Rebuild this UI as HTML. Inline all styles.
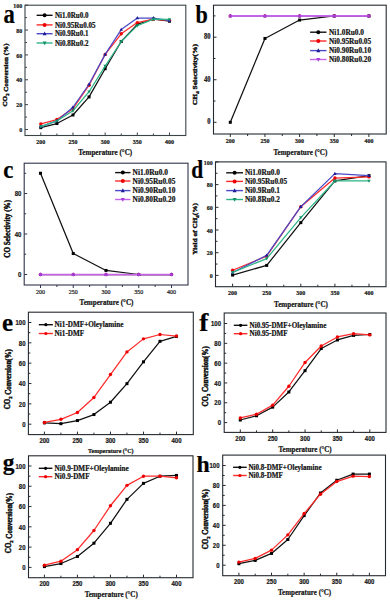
<!DOCTYPE html>
<html><head><meta charset="utf-8"><style>
html,body{margin:0;padding:0;background:#fff;}
svg{display:block;}
text{stroke:#111;stroke-width:0.22px;paint-order:normal;}
.lt{stroke-width:0.3px;}
</style></head><body>
<svg width="390" height="601" viewBox="0 0 390 601">
<rect width="390" height="601" fill="#fff"/>
<rect x="25.00" y="5.20" width="160.80" height="130.30" fill="none" stroke="#3a4446" stroke-width="1.1"/>
<line x1="40.80" y1="135.50" x2="40.80" y2="132.50" stroke="#3a4446" stroke-width="1"/>
<line x1="56.89" y1="135.50" x2="56.89" y2="133.50" stroke="#3a4446" stroke-width="1"/>
<line x1="72.97" y1="135.50" x2="72.97" y2="132.50" stroke="#3a4446" stroke-width="1"/>
<line x1="89.06" y1="135.50" x2="89.06" y2="133.50" stroke="#3a4446" stroke-width="1"/>
<line x1="105.15" y1="135.50" x2="105.15" y2="132.50" stroke="#3a4446" stroke-width="1"/>
<line x1="121.24" y1="135.50" x2="121.24" y2="133.50" stroke="#3a4446" stroke-width="1"/>
<line x1="137.32" y1="135.50" x2="137.32" y2="132.50" stroke="#3a4446" stroke-width="1"/>
<line x1="153.41" y1="135.50" x2="153.41" y2="133.50" stroke="#3a4446" stroke-width="1"/>
<line x1="169.50" y1="135.50" x2="169.50" y2="132.50" stroke="#3a4446" stroke-width="1"/>
<line x1="25.00" y1="129.50" x2="28.00" y2="129.50" stroke="#3a4446" stroke-width="1"/>
<line x1="25.00" y1="104.64" x2="28.00" y2="104.64" stroke="#3a4446" stroke-width="1"/>
<line x1="25.00" y1="79.78" x2="28.00" y2="79.78" stroke="#3a4446" stroke-width="1"/>
<line x1="25.00" y1="54.92" x2="28.00" y2="54.92" stroke="#3a4446" stroke-width="1"/>
<line x1="25.00" y1="30.06" x2="28.00" y2="30.06" stroke="#3a4446" stroke-width="1"/>
<line x1="25.00" y1="5.20" x2="28.00" y2="5.20" stroke="#3a4446" stroke-width="1"/>
<line x1="25.00" y1="117.07" x2="27.00" y2="117.07" stroke="#3a4446" stroke-width="1"/>
<line x1="25.00" y1="92.21" x2="27.00" y2="92.21" stroke="#3a4446" stroke-width="1"/>
<line x1="25.00" y1="67.35" x2="27.00" y2="67.35" stroke="#3a4446" stroke-width="1"/>
<line x1="25.00" y1="42.49" x2="27.00" y2="42.49" stroke="#3a4446" stroke-width="1"/>
<line x1="25.00" y1="17.63" x2="27.00" y2="17.63" stroke="#3a4446" stroke-width="1"/>
<text transform="translate(40.80,141.30) scale(0.8696,1)" font-family="'Liberation Serif', serif" font-weight="bold" font-size="6.900" text-anchor="middle" dominant-baseline="central" fill="#222">200</text>
<text transform="translate(72.97,141.30) scale(0.8696,1)" font-family="'Liberation Serif', serif" font-weight="bold" font-size="6.900" text-anchor="middle" dominant-baseline="central" fill="#222">250</text>
<text transform="translate(105.15,141.30) scale(0.8696,1)" font-family="'Liberation Serif', serif" font-weight="bold" font-size="6.900" text-anchor="middle" dominant-baseline="central" fill="#222">300</text>
<text transform="translate(137.32,141.30) scale(0.8696,1)" font-family="'Liberation Serif', serif" font-weight="bold" font-size="6.900" text-anchor="middle" dominant-baseline="central" fill="#222">350</text>
<text transform="translate(169.50,141.30) scale(0.8696,1)" font-family="'Liberation Serif', serif" font-weight="bold" font-size="6.900" text-anchor="middle" dominant-baseline="central" fill="#222">400</text>
<text transform="translate(22.30,129.50) scale(0.8696,1)" font-family="'Liberation Serif', serif" font-weight="bold" font-size="6.900" text-anchor="end" dominant-baseline="central" fill="#222">0</text>
<text transform="translate(22.30,104.64) scale(0.8696,1)" font-family="'Liberation Serif', serif" font-weight="bold" font-size="6.900" text-anchor="end" dominant-baseline="central" fill="#222">20</text>
<text transform="translate(22.30,79.78) scale(0.8696,1)" font-family="'Liberation Serif', serif" font-weight="bold" font-size="6.900" text-anchor="end" dominant-baseline="central" fill="#222">40</text>
<text transform="translate(22.30,54.92) scale(0.8696,1)" font-family="'Liberation Serif', serif" font-weight="bold" font-size="6.900" text-anchor="end" dominant-baseline="central" fill="#222">60</text>
<text transform="translate(22.30,30.06) scale(0.8696,1)" font-family="'Liberation Serif', serif" font-weight="bold" font-size="6.900" text-anchor="end" dominant-baseline="central" fill="#222">80</text>
<text transform="translate(22.30,5.20) scale(0.8696,1)" font-family="'Liberation Serif', serif" font-weight="bold" font-size="6.900" text-anchor="end" dominant-baseline="central" fill="#222">100</text>
<text transform="translate(105.20,152.30) scale(0.8696,1)" font-family="'Liberation Serif', serif" font-weight="bold" font-size="8.165" text-anchor="middle" dominant-baseline="central" fill="#111">Temperature (°C)</text>
<text transform="translate(4.90,75.00) rotate(-90) scale(1,0.9000)" font-family="'Liberation Serif', serif" font-weight="bold" font-size="7.100" text-anchor="middle" dominant-baseline="central" fill="#111" style="stroke-width:0.45px">CO<tspan font-size="65%" dy="2.3">2</tspan><tspan dy="-2.3"> Conversion (%)</tspan></text>
<polyline points="40.80,127.64 56.89,123.53 72.97,114.96 89.06,96.93 105.15,68.72 121.24,41.50 137.32,24.34 153.41,19.12 169.50,21.23" fill="none" stroke="#111111" stroke-width="1.25" stroke-linejoin="round"/>
<rect x="39.30" y="126.14" width="3.00" height="3.00" fill="#000000"/>
<rect x="55.39" y="122.03" width="3.00" height="3.00" fill="#000000"/>
<rect x="71.47" y="113.46" width="3.00" height="3.00" fill="#000000"/>
<rect x="87.56" y="95.43" width="3.00" height="3.00" fill="#000000"/>
<rect x="103.65" y="67.22" width="3.00" height="3.00" fill="#000000"/>
<rect x="119.74" y="40.00" width="3.00" height="3.00" fill="#000000"/>
<rect x="135.82" y="22.84" width="3.00" height="3.00" fill="#000000"/>
<rect x="151.91" y="17.62" width="3.00" height="3.00" fill="#000000"/>
<rect x="168.00" y="19.73" width="3.00" height="3.00" fill="#000000"/>
<polyline points="40.80,123.91 56.89,119.56 72.97,108.62 89.06,85.25 105.15,54.42 121.24,33.79 137.32,22.60 153.41,19.12 169.50,20.61" fill="none" stroke="#ff2a2a" stroke-width="1.25" stroke-linejoin="round"/>
<circle cx="40.80" cy="123.91" r="1.70" fill="#ee0000"/>
<circle cx="56.89" cy="119.56" r="1.70" fill="#ee0000"/>
<circle cx="72.97" cy="108.62" r="1.70" fill="#ee0000"/>
<circle cx="89.06" cy="85.25" r="1.70" fill="#ee0000"/>
<circle cx="105.15" cy="54.42" r="1.70" fill="#ee0000"/>
<circle cx="121.24" cy="33.79" r="1.70" fill="#ee0000"/>
<circle cx="137.32" cy="22.60" r="1.70" fill="#ee0000"/>
<circle cx="153.41" cy="19.12" r="1.70" fill="#ee0000"/>
<circle cx="169.50" cy="20.61" r="1.70" fill="#ee0000"/>
<polyline points="40.80,126.64 56.89,120.92 72.97,107.25 89.06,84.25 105.15,54.42 121.24,29.56 137.32,18.00 153.41,18.00 169.50,20.61" fill="none" stroke="#4a4ac8" stroke-width="1.25" stroke-linejoin="round"/>
<path d="M39.10,127.93 L42.50,127.93 L40.80,124.74Z" fill="#1c1c96"/>
<path d="M55.19,122.22 L58.59,122.22 L56.89,119.03Z" fill="#1c1c96"/>
<path d="M71.27,108.54 L74.67,108.54 L72.97,105.35Z" fill="#1c1c96"/>
<path d="M87.36,85.55 L90.76,85.55 L89.06,82.36Z" fill="#1c1c96"/>
<path d="M103.45,55.72 L106.85,55.72 L105.15,52.53Z" fill="#1c1c96"/>
<path d="M119.54,30.86 L122.94,30.86 L121.24,27.67Z" fill="#1c1c96"/>
<path d="M135.62,19.30 L139.02,19.30 L137.32,16.11Z" fill="#1c1c96"/>
<path d="M151.71,19.30 L155.11,19.30 L153.41,16.11Z" fill="#1c1c96"/>
<path d="M167.80,21.91 L171.20,21.91 L169.50,18.72Z" fill="#1c1c96"/>
<polyline points="40.80,126.64 56.89,120.92 72.97,110.73 89.06,91.71 105.15,66.11 121.24,41.50 137.32,25.59 153.41,19.12 169.50,19.49" fill="none" stroke="#2fb487" stroke-width="1.25" stroke-linejoin="round"/>
<path d="M39.10,125.35 L42.50,125.35 L40.80,128.54Z" fill="#14906a"/>
<path d="M55.19,119.63 L58.59,119.63 L56.89,122.82Z" fill="#14906a"/>
<path d="M71.27,109.44 L74.67,109.44 L72.97,112.63Z" fill="#14906a"/>
<path d="M87.36,90.42 L90.76,90.42 L89.06,93.61Z" fill="#14906a"/>
<path d="M103.45,64.81 L106.85,64.81 L105.15,68.00Z" fill="#14906a"/>
<path d="M119.54,40.20 L122.94,40.20 L121.24,43.39Z" fill="#14906a"/>
<path d="M135.62,24.29 L139.02,24.29 L137.32,27.48Z" fill="#14906a"/>
<path d="M151.71,17.83 L155.11,17.83 L153.41,21.02Z" fill="#14906a"/>
<path d="M167.80,18.20 L171.20,18.20 L169.50,21.39Z" fill="#14906a"/>
<line x1="36.60" y1="15.30" x2="52.60" y2="15.30" stroke="#111111" stroke-width="1.4"/>
<circle cx="44.60" cy="15.30" r="2.00" fill="#000000"/>
<text transform="translate(55.00,15.30) scale(0.8696,1)" font-family="'Liberation Serif', serif" font-weight="bold" font-size="8.050" text-anchor="start" dominant-baseline="central" fill="#111">Ni1.0Ru0.0</text>
<line x1="36.60" y1="24.90" x2="52.60" y2="24.90" stroke="#ff2a2a" stroke-width="1.4"/>
<circle cx="44.60" cy="24.90" r="2.00" fill="#ee0000"/>
<text transform="translate(55.00,24.90) scale(0.8696,1)" font-family="'Liberation Serif', serif" font-weight="bold" font-size="8.050" text-anchor="start" dominant-baseline="central" fill="#111">Ni0.95Ru0.05</text>
<line x1="36.60" y1="33.70" x2="52.60" y2="33.70" stroke="#4a4ac8" stroke-width="1.4"/>
<path d="M42.60,35.25 L46.60,35.25 L44.60,31.42Z" fill="#1c1c96"/>
<text transform="translate(55.00,33.70) scale(0.8696,1)" font-family="'Liberation Serif', serif" font-weight="bold" font-size="8.050" text-anchor="start" dominant-baseline="central" fill="#111">Ni0.9Ru0.1</text>
<line x1="36.60" y1="43.00" x2="52.60" y2="43.00" stroke="#2fb487" stroke-width="1.4"/>
<path d="M42.60,41.45 L46.60,41.45 L44.60,45.28Z" fill="#14906a"/>
<text transform="translate(55.00,43.00) scale(0.8696,1)" font-family="'Liberation Serif', serif" font-weight="bold" font-size="8.050" text-anchor="start" dominant-baseline="central" fill="#111">Ni0.8Ru0.2</text>
<text transform="translate(3.50,23.05) scale(0.855,1)" font-family="'Liberation Serif', serif" font-weight="bold" font-size="26.5" fill="#000">a</text>
<rect x="213.50" y="5.20" width="172.70" height="128.80" fill="none" stroke="#262a30" stroke-width="1.1"/>
<line x1="230.30" y1="134.00" x2="230.30" y2="137.00" stroke="#262a30" stroke-width="1"/>
<line x1="247.62" y1="134.00" x2="247.62" y2="136.00" stroke="#262a30" stroke-width="1"/>
<line x1="264.95" y1="134.00" x2="264.95" y2="137.00" stroke="#262a30" stroke-width="1"/>
<line x1="282.27" y1="134.00" x2="282.27" y2="136.00" stroke="#262a30" stroke-width="1"/>
<line x1="299.60" y1="134.00" x2="299.60" y2="137.00" stroke="#262a30" stroke-width="1"/>
<line x1="316.93" y1="134.00" x2="316.93" y2="136.00" stroke="#262a30" stroke-width="1"/>
<line x1="334.25" y1="134.00" x2="334.25" y2="137.00" stroke="#262a30" stroke-width="1"/>
<line x1="351.57" y1="134.00" x2="351.57" y2="136.00" stroke="#262a30" stroke-width="1"/>
<line x1="368.90" y1="134.00" x2="368.90" y2="137.00" stroke="#262a30" stroke-width="1"/>
<line x1="213.50" y1="122.30" x2="216.50" y2="122.30" stroke="#262a30" stroke-width="1"/>
<line x1="213.50" y1="79.74" x2="216.50" y2="79.74" stroke="#262a30" stroke-width="1"/>
<line x1="213.50" y1="37.18" x2="216.50" y2="37.18" stroke="#262a30" stroke-width="1"/>
<line x1="213.50" y1="101.02" x2="215.50" y2="101.02" stroke="#262a30" stroke-width="1"/>
<line x1="213.50" y1="58.46" x2="215.50" y2="58.46" stroke="#262a30" stroke-width="1"/>
<line x1="213.50" y1="15.90" x2="215.50" y2="15.90" stroke="#262a30" stroke-width="1"/>
<text transform="translate(230.30,140.80) scale(0.8696,1)" font-family="'Liberation Serif', serif" font-weight="bold" font-size="6.900" text-anchor="middle" dominant-baseline="central" fill="#222">200</text>
<text transform="translate(264.95,140.80) scale(0.8696,1)" font-family="'Liberation Serif', serif" font-weight="bold" font-size="6.900" text-anchor="middle" dominant-baseline="central" fill="#222">250</text>
<text transform="translate(299.60,140.80) scale(0.8696,1)" font-family="'Liberation Serif', serif" font-weight="bold" font-size="6.900" text-anchor="middle" dominant-baseline="central" fill="#222">300</text>
<text transform="translate(334.25,140.80) scale(0.8696,1)" font-family="'Liberation Serif', serif" font-weight="bold" font-size="6.900" text-anchor="middle" dominant-baseline="central" fill="#222">350</text>
<text transform="translate(368.90,140.80) scale(0.8696,1)" font-family="'Liberation Serif', serif" font-weight="bold" font-size="6.900" text-anchor="middle" dominant-baseline="central" fill="#222">400</text>
<text transform="translate(210.50,122.30) scale(0.8696,1)" font-family="'Liberation Serif', serif" font-weight="bold" font-size="7.590" text-anchor="end" dominant-baseline="central" fill="#222">0</text>
<text transform="translate(210.50,79.74) scale(0.8696,1)" font-family="'Liberation Serif', serif" font-weight="bold" font-size="7.590" text-anchor="end" dominant-baseline="central" fill="#222">40</text>
<text transform="translate(210.50,37.18) scale(0.8696,1)" font-family="'Liberation Serif', serif" font-weight="bold" font-size="7.590" text-anchor="end" dominant-baseline="central" fill="#222">80</text>
<text transform="translate(300.40,152.30) scale(0.8696,1)" font-family="'Liberation Serif', serif" font-weight="bold" font-size="8.165" text-anchor="middle" dominant-baseline="central" fill="#111">Temperature (°C)</text>
<text transform="translate(195.10,74.50) rotate(-90) scale(1,0.9000)" font-family="'Liberation Serif', serif" font-weight="bold" font-size="7.550" text-anchor="middle" dominant-baseline="central" fill="#111" style="stroke-width:0.45px">CH<tspan font-size="65%" dy="2.3">4</tspan><tspan dy="-2.3"> Selectivity(%)</tspan></text>
<polyline points="230.30,122.30 264.95,38.46 299.60,20.05 334.25,15.90 368.90,15.90" fill="none" stroke="#111111" stroke-width="1.25" stroke-linejoin="round"/>
<rect x="228.80" y="120.80" width="3.00" height="3.00" fill="#000000"/>
<rect x="263.45" y="36.96" width="3.00" height="3.00" fill="#000000"/>
<rect x="298.10" y="18.55" width="3.00" height="3.00" fill="#000000"/>
<rect x="332.75" y="14.40" width="3.00" height="3.00" fill="#000000"/>
<rect x="367.40" y="14.40" width="3.00" height="3.00" fill="#000000"/>
<polyline points="230.30,15.90 264.95,15.90 299.60,15.90 334.25,15.90 368.90,15.90" fill="none" stroke="#ff2a2a" stroke-width="1.25" stroke-linejoin="round"/>
<circle cx="230.30" cy="15.90" r="1.70" fill="#ee0000"/>
<circle cx="264.95" cy="15.90" r="1.70" fill="#ee0000"/>
<circle cx="299.60" cy="15.90" r="1.70" fill="#ee0000"/>
<circle cx="334.25" cy="15.90" r="1.70" fill="#ee0000"/>
<circle cx="368.90" cy="15.90" r="1.70" fill="#ee0000"/>
<polyline points="230.30,15.90 264.95,15.90 299.60,15.90 334.25,15.90 368.90,15.90" fill="none" stroke="#4a4ac8" stroke-width="1.25" stroke-linejoin="round"/>
<path d="M228.60,17.19 L232.00,17.19 L230.30,14.00Z" fill="#1c1c96"/>
<path d="M263.25,17.19 L266.65,17.19 L264.95,14.00Z" fill="#1c1c96"/>
<path d="M297.90,17.19 L301.30,17.19 L299.60,14.00Z" fill="#1c1c96"/>
<path d="M332.55,17.19 L335.95,17.19 L334.25,14.00Z" fill="#1c1c96"/>
<path d="M367.20,17.19 L370.60,17.19 L368.90,14.00Z" fill="#1c1c96"/>
<polyline points="230.30,15.90 264.95,15.90 299.60,15.90 334.25,15.90 368.90,15.90" fill="none" stroke="#c464ec" stroke-width="1.7" stroke-linejoin="round"/>
<circle cx="230.30" cy="15.90" r="1.70" fill="#a83cd8"/>
<circle cx="264.95" cy="15.90" r="1.70" fill="#a83cd8"/>
<circle cx="299.60" cy="15.90" r="1.70" fill="#a83cd8"/>
<circle cx="334.25" cy="15.90" r="1.70" fill="#a83cd8"/>
<circle cx="368.90" cy="15.90" r="1.70" fill="#a83cd8"/>
<line x1="310.10" y1="32.20" x2="326.50" y2="32.20" stroke="#111111" stroke-width="1.4"/>
<circle cx="318.30" cy="32.20" r="2.00" fill="#000000"/>
<text transform="translate(329.00,32.20) scale(0.8696,1)" font-family="'Liberation Serif', serif" font-weight="bold" font-size="8.395" text-anchor="start" dominant-baseline="central" fill="#111">Ni1.0Ru0.0</text>
<line x1="310.10" y1="41.00" x2="326.50" y2="41.00" stroke="#ff2a2a" stroke-width="1.4"/>
<circle cx="318.30" cy="41.00" r="2.00" fill="#ee0000"/>
<text transform="translate(329.00,41.00) scale(0.8696,1)" font-family="'Liberation Serif', serif" font-weight="bold" font-size="8.395" text-anchor="start" dominant-baseline="central" fill="#111">Ni0.95Ru0.05</text>
<line x1="310.10" y1="50.60" x2="326.50" y2="50.60" stroke="#4a4ac8" stroke-width="1.4"/>
<path d="M316.30,52.15 L320.30,52.15 L318.30,48.32Z" fill="#1c1c96"/>
<text transform="translate(329.00,50.60) scale(0.8696,1)" font-family="'Liberation Serif', serif" font-weight="bold" font-size="8.395" text-anchor="start" dominant-baseline="central" fill="#111">Ni0.90Ru0.10</text>
<line x1="310.10" y1="59.50" x2="326.50" y2="59.50" stroke="#c464ec" stroke-width="1.4"/>
<path d="M316.30,57.95 L320.30,57.95 L318.30,61.78Z" fill="#a83cd8"/>
<text transform="translate(329.00,59.50) scale(0.8696,1)" font-family="'Liberation Serif', serif" font-weight="bold" font-size="8.395" text-anchor="start" dominant-baseline="central" fill="#111">Ni0.80Ru0.20</text>
<text transform="translate(195.45,22.55) scale(0.895,1)" font-family="'Liberation Serif', serif" font-weight="bold" font-size="24.71" fill="#000">b</text>
<rect x="24.20" y="163.20" width="163.80" height="121.80" fill="none" stroke="#30344a" stroke-width="1.1"/>
<line x1="40.50" y1="285.00" x2="40.50" y2="288.00" stroke="#30344a" stroke-width="1"/>
<line x1="56.88" y1="285.00" x2="56.88" y2="287.00" stroke="#30344a" stroke-width="1"/>
<line x1="73.25" y1="285.00" x2="73.25" y2="288.00" stroke="#30344a" stroke-width="1"/>
<line x1="89.62" y1="285.00" x2="89.62" y2="287.00" stroke="#30344a" stroke-width="1"/>
<line x1="106.00" y1="285.00" x2="106.00" y2="288.00" stroke="#30344a" stroke-width="1"/>
<line x1="122.38" y1="285.00" x2="122.38" y2="287.00" stroke="#30344a" stroke-width="1"/>
<line x1="138.75" y1="285.00" x2="138.75" y2="288.00" stroke="#30344a" stroke-width="1"/>
<line x1="155.12" y1="285.00" x2="155.12" y2="287.00" stroke="#30344a" stroke-width="1"/>
<line x1="171.50" y1="285.00" x2="171.50" y2="288.00" stroke="#30344a" stroke-width="1"/>
<line x1="24.20" y1="274.50" x2="27.20" y2="274.50" stroke="#30344a" stroke-width="1"/>
<line x1="24.20" y1="234.00" x2="27.20" y2="234.00" stroke="#30344a" stroke-width="1"/>
<line x1="24.20" y1="193.50" x2="27.20" y2="193.50" stroke="#30344a" stroke-width="1"/>
<line x1="24.20" y1="254.25" x2="26.20" y2="254.25" stroke="#30344a" stroke-width="1"/>
<line x1="24.20" y1="213.75" x2="26.20" y2="213.75" stroke="#30344a" stroke-width="1"/>
<line x1="24.20" y1="173.25" x2="26.20" y2="173.25" stroke="#30344a" stroke-width="1"/>
<text transform="translate(40.50,291.80) scale(0.8696,1)" font-family="'Liberation Serif', serif" font-weight="normal" font-size="6.900" text-anchor="middle" dominant-baseline="central" fill="#222">200</text>
<text transform="translate(73.25,291.80) scale(0.8696,1)" font-family="'Liberation Serif', serif" font-weight="normal" font-size="6.900" text-anchor="middle" dominant-baseline="central" fill="#222">250</text>
<text transform="translate(106.00,291.80) scale(0.8696,1)" font-family="'Liberation Serif', serif" font-weight="normal" font-size="6.900" text-anchor="middle" dominant-baseline="central" fill="#222">300</text>
<text transform="translate(138.75,291.80) scale(0.8696,1)" font-family="'Liberation Serif', serif" font-weight="normal" font-size="6.900" text-anchor="middle" dominant-baseline="central" fill="#222">350</text>
<text transform="translate(171.50,291.80) scale(0.8696,1)" font-family="'Liberation Serif', serif" font-weight="normal" font-size="6.900" text-anchor="middle" dominant-baseline="central" fill="#222">400</text>
<text transform="translate(21.30,274.50) scale(0.8696,1)" font-family="'Liberation Sans', sans-serif" font-weight="bold" font-size="6.900" text-anchor="end" dominant-baseline="central" fill="#222">0</text>
<text transform="translate(21.30,234.00) scale(0.8696,1)" font-family="'Liberation Sans', sans-serif" font-weight="bold" font-size="6.900" text-anchor="end" dominant-baseline="central" fill="#222">40</text>
<text transform="translate(21.30,193.50) scale(0.8696,1)" font-family="'Liberation Sans', sans-serif" font-weight="bold" font-size="6.900" text-anchor="end" dominant-baseline="central" fill="#222">80</text>
<text transform="translate(106.50,302.30) scale(0.8696,1)" font-family="'Liberation Serif', serif" font-weight="bold" font-size="8.165" text-anchor="middle" dominant-baseline="central" fill="#111">Temperature (°C)</text>
<text transform="translate(7.70,228.80) rotate(-90) scale(1,1.0000)" font-family="'Liberation Serif', serif" font-weight="bold" font-size="7.200" text-anchor="middle" dominant-baseline="central" fill="#111" style="stroke-width:0.45px">CO Selectivity (%)</text>
<polyline points="40.50,173.25 73.25,253.54 106.00,270.45 138.75,274.50 171.50,274.50" fill="none" stroke="#111111" stroke-width="1.25" stroke-linejoin="round"/>
<rect x="39.00" y="171.75" width="3.00" height="3.00" fill="#000000"/>
<rect x="71.75" y="252.04" width="3.00" height="3.00" fill="#000000"/>
<rect x="104.50" y="268.95" width="3.00" height="3.00" fill="#000000"/>
<rect x="137.25" y="273.00" width="3.00" height="3.00" fill="#000000"/>
<rect x="170.00" y="273.00" width="3.00" height="3.00" fill="#000000"/>
<polyline points="40.50,274.50 73.25,274.50 106.00,274.50 138.75,274.50 171.50,274.50" fill="none" stroke="#ff2a2a" stroke-width="1.25" stroke-linejoin="round"/>
<circle cx="40.50" cy="274.50" r="1.70" fill="#ee0000"/>
<circle cx="73.25" cy="274.50" r="1.70" fill="#ee0000"/>
<circle cx="106.00" cy="274.50" r="1.70" fill="#ee0000"/>
<circle cx="138.75" cy="274.50" r="1.70" fill="#ee0000"/>
<circle cx="171.50" cy="274.50" r="1.70" fill="#ee0000"/>
<polyline points="40.50,274.50 73.25,274.50 106.00,274.50 138.75,274.50 171.50,274.50" fill="none" stroke="#4a4ac8" stroke-width="1.25" stroke-linejoin="round"/>
<path d="M38.80,275.79 L42.20,275.79 L40.50,272.60Z" fill="#1c1c96"/>
<path d="M71.55,275.79 L74.95,275.79 L73.25,272.60Z" fill="#1c1c96"/>
<path d="M104.30,275.79 L107.70,275.79 L106.00,272.60Z" fill="#1c1c96"/>
<path d="M137.05,275.79 L140.45,275.79 L138.75,272.60Z" fill="#1c1c96"/>
<path d="M169.80,275.79 L173.20,275.79 L171.50,272.60Z" fill="#1c1c96"/>
<polyline points="40.50,274.50 73.25,274.50 106.00,274.50 138.75,274.50 171.50,274.50" fill="none" stroke="#c464ec" stroke-width="1.7" stroke-linejoin="round"/>
<circle cx="40.50" cy="274.50" r="1.70" fill="#a83cd8"/>
<circle cx="73.25" cy="274.50" r="1.70" fill="#a83cd8"/>
<circle cx="106.00" cy="274.50" r="1.70" fill="#a83cd8"/>
<circle cx="138.75" cy="274.50" r="1.70" fill="#a83cd8"/>
<circle cx="171.50" cy="274.50" r="1.70" fill="#a83cd8"/>
<line x1="115.10" y1="172.60" x2="130.50" y2="172.60" stroke="#111111" stroke-width="1.4"/>
<circle cx="122.80" cy="172.60" r="2.00" fill="#000000"/>
<text transform="translate(132.60,172.60) scale(0.8696,1)" font-family="'Liberation Serif', serif" font-weight="bold" font-size="8.510" text-anchor="start" dominant-baseline="central" fill="#111">Ni1.0Ru0.0</text>
<line x1="115.10" y1="181.00" x2="130.50" y2="181.00" stroke="#ff2a2a" stroke-width="1.4"/>
<circle cx="122.80" cy="181.00" r="2.00" fill="#ee0000"/>
<text transform="translate(132.60,181.00) scale(0.8696,1)" font-family="'Liberation Serif', serif" font-weight="bold" font-size="8.510" text-anchor="start" dominant-baseline="central" fill="#111">Ni0.95Ru0.05</text>
<line x1="115.10" y1="190.60" x2="130.50" y2="190.60" stroke="#4a4ac8" stroke-width="1.4"/>
<path d="M120.80,192.15 L124.80,192.15 L122.80,188.32Z" fill="#1c1c96"/>
<text transform="translate(132.60,190.60) scale(0.8696,1)" font-family="'Liberation Serif', serif" font-weight="bold" font-size="8.510" text-anchor="start" dominant-baseline="central" fill="#111">Ni0.90Ru0.10</text>
<line x1="115.10" y1="199.50" x2="130.50" y2="199.50" stroke="#c464ec" stroke-width="1.4"/>
<path d="M120.80,197.95 L124.80,197.95 L122.80,201.78Z" fill="#a83cd8"/>
<text transform="translate(132.60,199.50) scale(0.8696,1)" font-family="'Liberation Serif', serif" font-weight="bold" font-size="8.510" text-anchor="start" dominant-baseline="central" fill="#111">Ni0.80Ru0.20</text>
<text transform="translate(3.25,178.15) scale(0.921,1)" font-family="'Liberation Serif', serif" font-weight="bold" font-size="24.73" fill="#000">c</text>
<rect x="215.50" y="161.90" width="170.50" height="124.80" fill="none" stroke="#262a30" stroke-width="1.1"/>
<line x1="232.60" y1="286.70" x2="232.60" y2="283.70" stroke="#262a30" stroke-width="1"/>
<line x1="249.65" y1="286.70" x2="249.65" y2="284.70" stroke="#262a30" stroke-width="1"/>
<line x1="266.70" y1="286.70" x2="266.70" y2="283.70" stroke="#262a30" stroke-width="1"/>
<line x1="283.75" y1="286.70" x2="283.75" y2="284.70" stroke="#262a30" stroke-width="1"/>
<line x1="300.80" y1="286.70" x2="300.80" y2="283.70" stroke="#262a30" stroke-width="1"/>
<line x1="317.85" y1="286.70" x2="317.85" y2="284.70" stroke="#262a30" stroke-width="1"/>
<line x1="334.90" y1="286.70" x2="334.90" y2="283.70" stroke="#262a30" stroke-width="1"/>
<line x1="351.95" y1="286.70" x2="351.95" y2="284.70" stroke="#262a30" stroke-width="1"/>
<line x1="369.00" y1="286.70" x2="369.00" y2="283.70" stroke="#262a30" stroke-width="1"/>
<line x1="215.50" y1="275.40" x2="218.50" y2="275.40" stroke="#262a30" stroke-width="1"/>
<line x1="215.50" y1="252.70" x2="218.50" y2="252.70" stroke="#262a30" stroke-width="1"/>
<line x1="215.50" y1="230.00" x2="218.50" y2="230.00" stroke="#262a30" stroke-width="1"/>
<line x1="215.50" y1="207.30" x2="218.50" y2="207.30" stroke="#262a30" stroke-width="1"/>
<line x1="215.50" y1="184.60" x2="218.50" y2="184.60" stroke="#262a30" stroke-width="1"/>
<line x1="215.50" y1="161.90" x2="218.50" y2="161.90" stroke="#262a30" stroke-width="1"/>
<line x1="215.50" y1="264.05" x2="217.50" y2="264.05" stroke="#262a30" stroke-width="1"/>
<line x1="215.50" y1="241.35" x2="217.50" y2="241.35" stroke="#262a30" stroke-width="1"/>
<line x1="215.50" y1="218.65" x2="217.50" y2="218.65" stroke="#262a30" stroke-width="1"/>
<line x1="215.50" y1="195.95" x2="217.50" y2="195.95" stroke="#262a30" stroke-width="1"/>
<line x1="215.50" y1="173.25" x2="217.50" y2="173.25" stroke="#262a30" stroke-width="1"/>
<text transform="translate(232.60,292.20) scale(0.8696,1)" font-family="'Liberation Serif', serif" font-weight="bold" font-size="6.900" text-anchor="middle" dominant-baseline="central" fill="#222">200</text>
<text transform="translate(266.70,292.20) scale(0.8696,1)" font-family="'Liberation Serif', serif" font-weight="bold" font-size="6.900" text-anchor="middle" dominant-baseline="central" fill="#222">250</text>
<text transform="translate(300.80,292.20) scale(0.8696,1)" font-family="'Liberation Serif', serif" font-weight="bold" font-size="6.900" text-anchor="middle" dominant-baseline="central" fill="#222">300</text>
<text transform="translate(334.90,292.20) scale(0.8696,1)" font-family="'Liberation Serif', serif" font-weight="bold" font-size="6.900" text-anchor="middle" dominant-baseline="central" fill="#222">350</text>
<text transform="translate(369.00,292.20) scale(0.8696,1)" font-family="'Liberation Serif', serif" font-weight="bold" font-size="6.900" text-anchor="middle" dominant-baseline="central" fill="#222">400</text>
<text transform="translate(212.80,275.40) scale(0.8696,1)" font-family="'Liberation Serif', serif" font-weight="bold" font-size="6.900" text-anchor="end" dominant-baseline="central" fill="#222">0</text>
<text transform="translate(212.80,252.70) scale(0.8696,1)" font-family="'Liberation Serif', serif" font-weight="bold" font-size="6.900" text-anchor="end" dominant-baseline="central" fill="#222">20</text>
<text transform="translate(212.80,230.00) scale(0.8696,1)" font-family="'Liberation Serif', serif" font-weight="bold" font-size="6.900" text-anchor="end" dominant-baseline="central" fill="#222">40</text>
<text transform="translate(212.80,207.30) scale(0.8696,1)" font-family="'Liberation Serif', serif" font-weight="bold" font-size="6.900" text-anchor="end" dominant-baseline="central" fill="#222">60</text>
<text transform="translate(212.80,184.60) scale(0.8696,1)" font-family="'Liberation Serif', serif" font-weight="bold" font-size="6.900" text-anchor="end" dominant-baseline="central" fill="#222">80</text>
<text transform="translate(212.80,161.90) scale(0.8696,1)" font-family="'Liberation Serif', serif" font-weight="bold" font-size="6.900" text-anchor="end" dominant-baseline="central" fill="#222">100</text>
<text transform="translate(301.00,304.10) scale(0.8696,1)" font-family="'Liberation Serif', serif" font-weight="bold" font-size="8.165" text-anchor="middle" dominant-baseline="central" fill="#111">Temperature (°C)</text>
<text transform="translate(195.40,228.90) rotate(-90) scale(1,0.9000)" font-family="'Liberation Serif', serif" font-weight="bold" font-size="7.300" text-anchor="middle" dominant-baseline="central" fill="#111" style="stroke-width:0.45px">Yield of CH<tspan font-size="65%" dy="2.3">4</tspan><tspan dy="-2.3">(%)</tspan></text>
<polyline points="232.60,275.06 266.70,265.41 300.80,222.62 334.90,180.97 369.00,175.63" fill="none" stroke="#111111" stroke-width="1.25" stroke-linejoin="round"/>
<rect x="231.10" y="273.56" width="3.00" height="3.00" fill="#000000"/>
<rect x="265.20" y="263.91" width="3.00" height="3.00" fill="#000000"/>
<rect x="299.30" y="221.12" width="3.00" height="3.00" fill="#000000"/>
<rect x="333.40" y="179.47" width="3.00" height="3.00" fill="#000000"/>
<rect x="367.50" y="174.13" width="3.00" height="3.00" fill="#000000"/>
<polyline points="232.60,270.29 266.70,256.10 300.80,206.73 334.90,178.02 369.00,176.88" fill="none" stroke="#ff2a2a" stroke-width="1.25" stroke-linejoin="round"/>
<circle cx="232.60" cy="270.29" r="1.70" fill="#ee0000"/>
<circle cx="266.70" cy="256.10" r="1.70" fill="#ee0000"/>
<circle cx="300.80" cy="206.73" r="1.70" fill="#ee0000"/>
<circle cx="334.90" cy="178.02" r="1.70" fill="#ee0000"/>
<circle cx="369.00" cy="176.88" r="1.70" fill="#ee0000"/>
<polyline points="232.60,272.56 266.70,255.31 300.80,206.73 334.90,173.59 369.00,175.63" fill="none" stroke="#4a4ac8" stroke-width="1.25" stroke-linejoin="round"/>
<path d="M230.90,273.86 L234.30,273.86 L232.60,270.67Z" fill="#1c1c96"/>
<path d="M265.00,256.60 L268.40,256.60 L266.70,253.41Z" fill="#1c1c96"/>
<path d="M299.10,208.03 L302.50,208.03 L300.80,204.84Z" fill="#1c1c96"/>
<path d="M333.20,174.88 L336.60,174.88 L334.90,171.69Z" fill="#1c1c96"/>
<path d="M367.30,176.93 L370.70,176.93 L369.00,173.74Z" fill="#1c1c96"/>
<polyline points="232.60,272.34 266.70,258.60 300.80,217.63 334.90,180.97 369.00,180.97" fill="none" stroke="#2fb487" stroke-width="1.25" stroke-linejoin="round"/>
<path d="M230.90,271.04 L234.30,271.04 L232.60,274.23Z" fill="#14906a"/>
<path d="M265.00,257.31 L268.40,257.31 L266.70,260.50Z" fill="#14906a"/>
<path d="M299.10,216.33 L302.50,216.33 L300.80,219.53Z" fill="#14906a"/>
<path d="M333.20,179.67 L336.60,179.67 L334.90,182.87Z" fill="#14906a"/>
<path d="M367.30,179.67 L370.70,179.67 L369.00,182.87Z" fill="#14906a"/>
<line x1="226.20" y1="172.80" x2="243.00" y2="172.80" stroke="#111111" stroke-width="1.4"/>
<circle cx="234.60" cy="172.80" r="2.00" fill="#000000"/>
<text transform="translate(245.00,172.80) scale(0.8696,1)" font-family="'Liberation Serif', serif" font-weight="bold" font-size="8.395" text-anchor="start" dominant-baseline="central" fill="#111">Ni1.0Ru0.0</text>
<line x1="226.20" y1="181.40" x2="243.00" y2="181.40" stroke="#ff2a2a" stroke-width="1.4"/>
<circle cx="234.60" cy="181.40" r="2.00" fill="#ee0000"/>
<text transform="translate(245.00,181.40) scale(0.8696,1)" font-family="'Liberation Serif', serif" font-weight="bold" font-size="8.395" text-anchor="start" dominant-baseline="central" fill="#111">Ni0.95Ru0.05</text>
<line x1="226.20" y1="190.60" x2="243.00" y2="190.60" stroke="#4a4ac8" stroke-width="1.4"/>
<path d="M232.60,192.15 L236.60,192.15 L234.60,188.32Z" fill="#1c1c96"/>
<text transform="translate(245.00,190.60) scale(0.8696,1)" font-family="'Liberation Serif', serif" font-weight="bold" font-size="8.395" text-anchor="start" dominant-baseline="central" fill="#111">Ni0.9Ru0.1</text>
<line x1="226.20" y1="199.50" x2="243.00" y2="199.50" stroke="#2fb487" stroke-width="1.4"/>
<path d="M232.60,197.95 L236.60,197.95 L234.60,201.78Z" fill="#14906a"/>
<text transform="translate(245.00,199.50) scale(0.8696,1)" font-family="'Liberation Serif', serif" font-weight="bold" font-size="8.395" text-anchor="start" dominant-baseline="central" fill="#111">Ni0.8Ru0.2</text>
<text transform="translate(191.15,177.65) scale(0.847,1)" font-family="'Liberation Serif', serif" font-weight="bold" font-size="25.36" fill="#000">d</text>
<rect x="28.40" y="312.20" width="164.90" height="122.40" fill="none" stroke="#262a30" stroke-width="1.1"/>
<line x1="44.40" y1="434.60" x2="44.40" y2="431.60" stroke="#262a30" stroke-width="1"/>
<line x1="60.91" y1="434.60" x2="60.91" y2="432.60" stroke="#262a30" stroke-width="1"/>
<line x1="77.42" y1="434.60" x2="77.42" y2="431.60" stroke="#262a30" stroke-width="1"/>
<line x1="93.94" y1="434.60" x2="93.94" y2="432.60" stroke="#262a30" stroke-width="1"/>
<line x1="110.45" y1="434.60" x2="110.45" y2="431.60" stroke="#262a30" stroke-width="1"/>
<line x1="126.96" y1="434.60" x2="126.96" y2="432.60" stroke="#262a30" stroke-width="1"/>
<line x1="143.47" y1="434.60" x2="143.47" y2="431.60" stroke="#262a30" stroke-width="1"/>
<line x1="159.99" y1="434.60" x2="159.99" y2="432.60" stroke="#262a30" stroke-width="1"/>
<line x1="176.50" y1="434.60" x2="176.50" y2="431.60" stroke="#262a30" stroke-width="1"/>
<line x1="28.40" y1="424.20" x2="31.40" y2="424.20" stroke="#262a30" stroke-width="1"/>
<line x1="28.40" y1="403.86" x2="31.40" y2="403.86" stroke="#262a30" stroke-width="1"/>
<line x1="28.40" y1="383.52" x2="31.40" y2="383.52" stroke="#262a30" stroke-width="1"/>
<line x1="28.40" y1="363.18" x2="31.40" y2="363.18" stroke="#262a30" stroke-width="1"/>
<line x1="28.40" y1="342.84" x2="31.40" y2="342.84" stroke="#262a30" stroke-width="1"/>
<line x1="28.40" y1="322.50" x2="31.40" y2="322.50" stroke="#262a30" stroke-width="1"/>
<line x1="28.40" y1="414.03" x2="30.40" y2="414.03" stroke="#262a30" stroke-width="1"/>
<line x1="28.40" y1="393.69" x2="30.40" y2="393.69" stroke="#262a30" stroke-width="1"/>
<line x1="28.40" y1="373.35" x2="30.40" y2="373.35" stroke="#262a30" stroke-width="1"/>
<line x1="28.40" y1="353.01" x2="30.40" y2="353.01" stroke="#262a30" stroke-width="1"/>
<line x1="28.40" y1="332.67" x2="30.40" y2="332.67" stroke="#262a30" stroke-width="1"/>
<text transform="translate(44.40,440.00) scale(0.8696,1)" font-family="'Liberation Sans', sans-serif" font-weight="bold" font-size="6.900" text-anchor="middle" dominant-baseline="central" fill="#222">200</text>
<text transform="translate(77.42,440.00) scale(0.8696,1)" font-family="'Liberation Sans', sans-serif" font-weight="bold" font-size="6.900" text-anchor="middle" dominant-baseline="central" fill="#222">250</text>
<text transform="translate(110.45,440.00) scale(0.8696,1)" font-family="'Liberation Sans', sans-serif" font-weight="bold" font-size="6.900" text-anchor="middle" dominant-baseline="central" fill="#222">300</text>
<text transform="translate(143.47,440.00) scale(0.8696,1)" font-family="'Liberation Sans', sans-serif" font-weight="bold" font-size="6.900" text-anchor="middle" dominant-baseline="central" fill="#222">350</text>
<text transform="translate(176.50,440.00) scale(0.8696,1)" font-family="'Liberation Sans', sans-serif" font-weight="bold" font-size="6.900" text-anchor="middle" dominant-baseline="central" fill="#222">400</text>
<text transform="translate(25.50,424.20) scale(0.8696,1)" font-family="'Liberation Sans', sans-serif" font-weight="bold" font-size="6.900" text-anchor="end" dominant-baseline="central" fill="#222">0</text>
<text transform="translate(25.50,403.86) scale(0.8696,1)" font-family="'Liberation Sans', sans-serif" font-weight="bold" font-size="6.900" text-anchor="end" dominant-baseline="central" fill="#222">20</text>
<text transform="translate(25.50,383.52) scale(0.8696,1)" font-family="'Liberation Sans', sans-serif" font-weight="bold" font-size="6.900" text-anchor="end" dominant-baseline="central" fill="#222">40</text>
<text transform="translate(25.50,363.18) scale(0.8696,1)" font-family="'Liberation Sans', sans-serif" font-weight="bold" font-size="6.900" text-anchor="end" dominant-baseline="central" fill="#222">60</text>
<text transform="translate(25.50,342.84) scale(0.8696,1)" font-family="'Liberation Sans', sans-serif" font-weight="bold" font-size="6.900" text-anchor="end" dominant-baseline="central" fill="#222">80</text>
<text transform="translate(25.50,322.50) scale(0.8696,1)" font-family="'Liberation Sans', sans-serif" font-weight="bold" font-size="6.900" text-anchor="end" dominant-baseline="central" fill="#222">100</text>
<text transform="translate(110.80,450.40) scale(0.8696,1)" font-family="'Liberation Serif', serif" font-weight="bold" font-size="6.900" text-anchor="middle" dominant-baseline="central" fill="#111">Temperature (°C)</text>
<text transform="translate(7.60,379.20) rotate(-90) scale(1,1.1000)" font-family="'Liberation Serif', serif" font-weight="bold" font-size="7.000" text-anchor="middle" dominant-baseline="central" fill="#111" style="stroke-width:0.45px">CO<tspan font-size="65%" dy="2.3">2</tspan><tspan dy="-2.3"> Conversion(%)</tspan></text>
<polyline points="44.40,422.88 60.91,423.69 77.42,420.54 93.94,414.54 110.45,402.23 126.96,383.62 143.47,361.86 159.99,341.31 176.50,336.43" fill="none" stroke="#111111" stroke-width="1.25" stroke-linejoin="round"/>
<rect x="42.90" y="421.38" width="3.00" height="3.00" fill="#000000"/>
<rect x="59.41" y="422.19" width="3.00" height="3.00" fill="#000000"/>
<rect x="75.92" y="419.04" width="3.00" height="3.00" fill="#000000"/>
<rect x="92.44" y="413.04" width="3.00" height="3.00" fill="#000000"/>
<rect x="108.95" y="400.73" width="3.00" height="3.00" fill="#000000"/>
<rect x="125.46" y="382.12" width="3.00" height="3.00" fill="#000000"/>
<rect x="141.97" y="360.36" width="3.00" height="3.00" fill="#000000"/>
<rect x="158.49" y="339.81" width="3.00" height="3.00" fill="#000000"/>
<rect x="175.00" y="334.93" width="3.00" height="3.00" fill="#000000"/>
<polyline points="44.40,422.47 60.91,419.32 77.42,412.50 93.94,397.45 110.45,374.57 126.96,351.89 143.47,338.87 159.99,334.50 176.50,336.03" fill="none" stroke="#ff2a2a" stroke-width="1.25" stroke-linejoin="round"/>
<circle cx="44.40" cy="422.47" r="1.70" fill="#ee0000"/>
<circle cx="60.91" cy="419.32" r="1.70" fill="#ee0000"/>
<circle cx="77.42" cy="412.50" r="1.70" fill="#ee0000"/>
<circle cx="93.94" cy="397.45" r="1.70" fill="#ee0000"/>
<circle cx="110.45" cy="374.57" r="1.70" fill="#ee0000"/>
<circle cx="126.96" cy="351.89" r="1.70" fill="#ee0000"/>
<circle cx="143.47" cy="338.87" r="1.70" fill="#ee0000"/>
<circle cx="159.99" cy="334.50" r="1.70" fill="#ee0000"/>
<circle cx="176.50" cy="336.03" r="1.70" fill="#ee0000"/>
<line x1="38.80" y1="324.70" x2="52.90" y2="324.70" stroke="#111111" stroke-width="1.4"/>
<circle cx="45.85" cy="324.70" r="1.60" fill="#000000"/>
<text transform="translate(54.60,324.70) scale(0.8696,1)" font-family="'Liberation Serif', serif" font-weight="bold" font-size="8.280" text-anchor="start" dominant-baseline="central" fill="#111">Ni1-DMF+Oleylamine</text>
<line x1="38.80" y1="333.50" x2="52.90" y2="333.50" stroke="#ff2a2a" stroke-width="1.4"/>
<circle cx="45.85" cy="333.50" r="1.60" fill="#ee0000"/>
<text transform="translate(54.60,333.50) scale(0.8696,1)" font-family="'Liberation Serif', serif" font-weight="bold" font-size="8.280" text-anchor="start" dominant-baseline="central" fill="#111">Ni1-DMF</text>
<text transform="translate(1.95,331.45) scale(0.978,1)" font-family="'Liberation Serif', serif" font-weight="bold" font-size="25.64" fill="#000">e</text>
<rect x="224.20" y="313.00" width="161.80" height="119.40" fill="none" stroke="#262a30" stroke-width="1.1"/>
<line x1="240.30" y1="432.40" x2="240.30" y2="429.40" stroke="#262a30" stroke-width="1"/>
<line x1="256.49" y1="432.40" x2="256.49" y2="430.40" stroke="#262a30" stroke-width="1"/>
<line x1="272.68" y1="432.40" x2="272.68" y2="429.40" stroke="#262a30" stroke-width="1"/>
<line x1="288.86" y1="432.40" x2="288.86" y2="430.40" stroke="#262a30" stroke-width="1"/>
<line x1="305.05" y1="432.40" x2="305.05" y2="429.40" stroke="#262a30" stroke-width="1"/>
<line x1="321.24" y1="432.40" x2="321.24" y2="430.40" stroke="#262a30" stroke-width="1"/>
<line x1="337.43" y1="432.40" x2="337.43" y2="429.40" stroke="#262a30" stroke-width="1"/>
<line x1="353.61" y1="432.40" x2="353.61" y2="430.40" stroke="#262a30" stroke-width="1"/>
<line x1="369.80" y1="432.40" x2="369.80" y2="429.40" stroke="#262a30" stroke-width="1"/>
<line x1="224.20" y1="422.60" x2="227.20" y2="422.60" stroke="#262a30" stroke-width="1"/>
<line x1="224.20" y1="402.78" x2="227.20" y2="402.78" stroke="#262a30" stroke-width="1"/>
<line x1="224.20" y1="382.96" x2="227.20" y2="382.96" stroke="#262a30" stroke-width="1"/>
<line x1="224.20" y1="363.14" x2="227.20" y2="363.14" stroke="#262a30" stroke-width="1"/>
<line x1="224.20" y1="343.32" x2="227.20" y2="343.32" stroke="#262a30" stroke-width="1"/>
<line x1="224.20" y1="323.50" x2="227.20" y2="323.50" stroke="#262a30" stroke-width="1"/>
<line x1="224.20" y1="412.69" x2="226.20" y2="412.69" stroke="#262a30" stroke-width="1"/>
<line x1="224.20" y1="392.87" x2="226.20" y2="392.87" stroke="#262a30" stroke-width="1"/>
<line x1="224.20" y1="373.05" x2="226.20" y2="373.05" stroke="#262a30" stroke-width="1"/>
<line x1="224.20" y1="353.23" x2="226.20" y2="353.23" stroke="#262a30" stroke-width="1"/>
<line x1="224.20" y1="333.41" x2="226.20" y2="333.41" stroke="#262a30" stroke-width="1"/>
<text transform="translate(240.30,437.90) scale(0.8696,1)" font-family="'Liberation Sans', sans-serif" font-weight="bold" font-size="6.900" text-anchor="middle" dominant-baseline="central" fill="#222">200</text>
<text transform="translate(272.68,437.90) scale(0.8696,1)" font-family="'Liberation Sans', sans-serif" font-weight="bold" font-size="6.900" text-anchor="middle" dominant-baseline="central" fill="#222">250</text>
<text transform="translate(305.05,437.90) scale(0.8696,1)" font-family="'Liberation Sans', sans-serif" font-weight="bold" font-size="6.900" text-anchor="middle" dominant-baseline="central" fill="#222">300</text>
<text transform="translate(337.43,437.90) scale(0.8696,1)" font-family="'Liberation Sans', sans-serif" font-weight="bold" font-size="6.900" text-anchor="middle" dominant-baseline="central" fill="#222">350</text>
<text transform="translate(369.80,437.90) scale(0.8696,1)" font-family="'Liberation Sans', sans-serif" font-weight="bold" font-size="6.900" text-anchor="middle" dominant-baseline="central" fill="#222">400</text>
<text transform="translate(221.00,422.60) scale(0.8696,1)" font-family="'Liberation Sans', sans-serif" font-weight="bold" font-size="6.900" text-anchor="end" dominant-baseline="central" fill="#222">0</text>
<text transform="translate(221.00,402.78) scale(0.8696,1)" font-family="'Liberation Sans', sans-serif" font-weight="bold" font-size="6.900" text-anchor="end" dominant-baseline="central" fill="#222">20</text>
<text transform="translate(221.00,382.96) scale(0.8696,1)" font-family="'Liberation Sans', sans-serif" font-weight="bold" font-size="6.900" text-anchor="end" dominant-baseline="central" fill="#222">40</text>
<text transform="translate(221.00,363.14) scale(0.8696,1)" font-family="'Liberation Sans', sans-serif" font-weight="bold" font-size="6.900" text-anchor="end" dominant-baseline="central" fill="#222">60</text>
<text transform="translate(221.00,343.32) scale(0.8696,1)" font-family="'Liberation Sans', sans-serif" font-weight="bold" font-size="6.900" text-anchor="end" dominant-baseline="central" fill="#222">80</text>
<text transform="translate(221.00,323.50) scale(0.8696,1)" font-family="'Liberation Sans', sans-serif" font-weight="bold" font-size="6.900" text-anchor="end" dominant-baseline="central" fill="#222">100</text>
<text transform="translate(305.10,449.10) scale(0.8696,1)" font-family="'Liberation Serif', serif" font-weight="bold" font-size="8.050" text-anchor="middle" dominant-baseline="central" fill="#111">Temperature (°C)</text>
<text transform="translate(205.10,376.40) rotate(-90) scale(1,1.1000)" font-family="'Liberation Serif', serif" font-weight="bold" font-size="7.000" text-anchor="middle" dominant-baseline="central" fill="#111" style="stroke-width:0.45px">CO<tspan font-size="65%" dy="2.3">2</tspan><tspan dy="-2.3"> Conversion(%)</tspan></text>
<polyline points="240.30,420.02 256.49,415.76 272.68,407.14 288.86,391.98 305.05,370.67 321.24,348.57 337.43,339.95 353.61,335.39 369.80,334.50" fill="none" stroke="#111111" stroke-width="1.25" stroke-linejoin="round"/>
<rect x="238.80" y="418.52" width="3.00" height="3.00" fill="#000000"/>
<rect x="254.99" y="414.26" width="3.00" height="3.00" fill="#000000"/>
<rect x="271.18" y="405.64" width="3.00" height="3.00" fill="#000000"/>
<rect x="287.36" y="390.48" width="3.00" height="3.00" fill="#000000"/>
<rect x="303.55" y="369.17" width="3.00" height="3.00" fill="#000000"/>
<rect x="319.74" y="347.07" width="3.00" height="3.00" fill="#000000"/>
<rect x="335.93" y="338.45" width="3.00" height="3.00" fill="#000000"/>
<rect x="352.11" y="333.89" width="3.00" height="3.00" fill="#000000"/>
<rect x="368.30" y="333.00" width="3.00" height="3.00" fill="#000000"/>
<polyline points="240.30,417.94 256.49,414.18 272.68,405.16 288.86,386.23 305.05,362.45 321.24,346.00 337.43,336.98 353.61,333.71 369.80,334.90" fill="none" stroke="#ff2a2a" stroke-width="1.25" stroke-linejoin="round"/>
<circle cx="240.30" cy="417.94" r="1.70" fill="#ee0000"/>
<circle cx="256.49" cy="414.18" r="1.70" fill="#ee0000"/>
<circle cx="272.68" cy="405.16" r="1.70" fill="#ee0000"/>
<circle cx="288.86" cy="386.23" r="1.70" fill="#ee0000"/>
<circle cx="305.05" cy="362.45" r="1.70" fill="#ee0000"/>
<circle cx="321.24" cy="346.00" r="1.70" fill="#ee0000"/>
<circle cx="337.43" cy="336.98" r="1.70" fill="#ee0000"/>
<circle cx="353.61" cy="333.71" r="1.70" fill="#ee0000"/>
<circle cx="369.80" cy="334.90" r="1.70" fill="#ee0000"/>
<line x1="233.80" y1="325.30" x2="247.40" y2="325.30" stroke="#111111" stroke-width="1.4"/>
<circle cx="240.60" cy="325.30" r="1.60" fill="#000000"/>
<text transform="translate(249.60,325.30) scale(0.8696,1)" font-family="'Liberation Serif', serif" font-weight="bold" font-size="8.165" text-anchor="start" dominant-baseline="central" fill="#111">Ni0.95-DMF+Oleylamine</text>
<line x1="233.80" y1="333.70" x2="247.40" y2="333.70" stroke="#ff2a2a" stroke-width="1.4"/>
<circle cx="240.60" cy="333.70" r="1.60" fill="#ee0000"/>
<text transform="translate(249.60,333.70) scale(0.8696,1)" font-family="'Liberation Serif', serif" font-weight="bold" font-size="8.165" text-anchor="start" dominant-baseline="central" fill="#111">Ni0.95-DMF</text>
<text transform="translate(199.15,330.55) scale(1.091,1)" font-family="'Liberation Serif', serif" font-weight="bold" font-size="25.05" fill="#000">f</text>
<rect x="28.50" y="455.80" width="164.50" height="121.90" fill="none" stroke="#262a30" stroke-width="1.1"/>
<line x1="44.40" y1="577.70" x2="44.40" y2="574.70" stroke="#262a30" stroke-width="1"/>
<line x1="60.91" y1="577.70" x2="60.91" y2="575.70" stroke="#262a30" stroke-width="1"/>
<line x1="77.42" y1="577.70" x2="77.42" y2="574.70" stroke="#262a30" stroke-width="1"/>
<line x1="93.94" y1="577.70" x2="93.94" y2="575.70" stroke="#262a30" stroke-width="1"/>
<line x1="110.45" y1="577.70" x2="110.45" y2="574.70" stroke="#262a30" stroke-width="1"/>
<line x1="126.96" y1="577.70" x2="126.96" y2="575.70" stroke="#262a30" stroke-width="1"/>
<line x1="143.47" y1="577.70" x2="143.47" y2="574.70" stroke="#262a30" stroke-width="1"/>
<line x1="159.99" y1="577.70" x2="159.99" y2="575.70" stroke="#262a30" stroke-width="1"/>
<line x1="176.50" y1="577.70" x2="176.50" y2="574.70" stroke="#262a30" stroke-width="1"/>
<line x1="28.50" y1="567.40" x2="31.50" y2="567.40" stroke="#262a30" stroke-width="1"/>
<line x1="28.50" y1="547.12" x2="31.50" y2="547.12" stroke="#262a30" stroke-width="1"/>
<line x1="28.50" y1="526.84" x2="31.50" y2="526.84" stroke="#262a30" stroke-width="1"/>
<line x1="28.50" y1="506.56" x2="31.50" y2="506.56" stroke="#262a30" stroke-width="1"/>
<line x1="28.50" y1="486.28" x2="31.50" y2="486.28" stroke="#262a30" stroke-width="1"/>
<line x1="28.50" y1="466.00" x2="31.50" y2="466.00" stroke="#262a30" stroke-width="1"/>
<line x1="28.50" y1="557.26" x2="30.50" y2="557.26" stroke="#262a30" stroke-width="1"/>
<line x1="28.50" y1="536.98" x2="30.50" y2="536.98" stroke="#262a30" stroke-width="1"/>
<line x1="28.50" y1="516.70" x2="30.50" y2="516.70" stroke="#262a30" stroke-width="1"/>
<line x1="28.50" y1="496.42" x2="30.50" y2="496.42" stroke="#262a30" stroke-width="1"/>
<line x1="28.50" y1="476.14" x2="30.50" y2="476.14" stroke="#262a30" stroke-width="1"/>
<text transform="translate(44.40,583.50) scale(0.8696,1)" font-family="'Liberation Sans', sans-serif" font-weight="bold" font-size="6.900" text-anchor="middle" dominant-baseline="central" fill="#222">200</text>
<text transform="translate(77.42,583.50) scale(0.8696,1)" font-family="'Liberation Sans', sans-serif" font-weight="bold" font-size="6.900" text-anchor="middle" dominant-baseline="central" fill="#222">250</text>
<text transform="translate(110.45,583.50) scale(0.8696,1)" font-family="'Liberation Sans', sans-serif" font-weight="bold" font-size="6.900" text-anchor="middle" dominant-baseline="central" fill="#222">300</text>
<text transform="translate(143.47,583.50) scale(0.8696,1)" font-family="'Liberation Sans', sans-serif" font-weight="bold" font-size="6.900" text-anchor="middle" dominant-baseline="central" fill="#222">350</text>
<text transform="translate(176.50,583.50) scale(0.8696,1)" font-family="'Liberation Sans', sans-serif" font-weight="bold" font-size="6.900" text-anchor="middle" dominant-baseline="central" fill="#222">400</text>
<text transform="translate(25.50,567.40) scale(0.8696,1)" font-family="'Liberation Sans', sans-serif" font-weight="bold" font-size="6.900" text-anchor="end" dominant-baseline="central" fill="#222">0</text>
<text transform="translate(25.50,547.12) scale(0.8696,1)" font-family="'Liberation Sans', sans-serif" font-weight="bold" font-size="6.900" text-anchor="end" dominant-baseline="central" fill="#222">20</text>
<text transform="translate(25.50,526.84) scale(0.8696,1)" font-family="'Liberation Sans', sans-serif" font-weight="bold" font-size="6.900" text-anchor="end" dominant-baseline="central" fill="#222">40</text>
<text transform="translate(25.50,506.56) scale(0.8696,1)" font-family="'Liberation Sans', sans-serif" font-weight="bold" font-size="6.900" text-anchor="end" dominant-baseline="central" fill="#222">60</text>
<text transform="translate(25.50,486.28) scale(0.8696,1)" font-family="'Liberation Sans', sans-serif" font-weight="bold" font-size="6.900" text-anchor="end" dominant-baseline="central" fill="#222">80</text>
<text transform="translate(25.50,466.00) scale(0.8696,1)" font-family="'Liberation Sans', sans-serif" font-weight="bold" font-size="6.900" text-anchor="end" dominant-baseline="central" fill="#222">100</text>
<text transform="translate(111.20,594.20) scale(0.8696,1)" font-family="'Liberation Serif', serif" font-weight="bold" font-size="8.050" text-anchor="middle" dominant-baseline="central" fill="#111">Temperature (°C)</text>
<text transform="translate(8.70,523.00) rotate(-90) scale(1,1.1000)" font-family="'Liberation Serif', serif" font-weight="bold" font-size="7.000" text-anchor="middle" dominant-baseline="central" fill="#111" style="stroke-width:0.45px">CO<tspan font-size="65%" dy="2.3">2</tspan><tspan dy="-2.3"> Conversion(%)</tspan></text>
<polyline points="44.40,566.59 60.91,563.55 77.42,556.45 93.94,543.17 110.45,523.29 126.96,499.36 143.47,483.34 159.99,476.24 176.50,475.43" fill="none" stroke="#111111" stroke-width="1.25" stroke-linejoin="round"/>
<rect x="42.90" y="565.09" width="3.00" height="3.00" fill="#000000"/>
<rect x="59.41" y="562.05" width="3.00" height="3.00" fill="#000000"/>
<rect x="75.92" y="554.95" width="3.00" height="3.00" fill="#000000"/>
<rect x="92.44" y="541.67" width="3.00" height="3.00" fill="#000000"/>
<rect x="108.95" y="521.79" width="3.00" height="3.00" fill="#000000"/>
<rect x="125.46" y="497.86" width="3.00" height="3.00" fill="#000000"/>
<rect x="141.97" y="481.84" width="3.00" height="3.00" fill="#000000"/>
<rect x="158.49" y="474.74" width="3.00" height="3.00" fill="#000000"/>
<rect x="175.00" y="473.93" width="3.00" height="3.00" fill="#000000"/>
<polyline points="44.40,565.17 60.91,561.21 77.42,549.65 93.94,530.49 110.45,505.75 126.96,485.37 143.47,476.24 159.99,476.24 176.50,477.76" fill="none" stroke="#ff2a2a" stroke-width="1.25" stroke-linejoin="round"/>
<circle cx="44.40" cy="565.17" r="1.70" fill="#ee0000"/>
<circle cx="60.91" cy="561.21" r="1.70" fill="#ee0000"/>
<circle cx="77.42" cy="549.65" r="1.70" fill="#ee0000"/>
<circle cx="93.94" cy="530.49" r="1.70" fill="#ee0000"/>
<circle cx="110.45" cy="505.75" r="1.70" fill="#ee0000"/>
<circle cx="126.96" cy="485.37" r="1.70" fill="#ee0000"/>
<circle cx="143.47" cy="476.24" r="1.70" fill="#ee0000"/>
<circle cx="159.99" cy="476.24" r="1.70" fill="#ee0000"/>
<circle cx="176.50" cy="477.76" r="1.70" fill="#ee0000"/>
<line x1="38.80" y1="468.30" x2="52.40" y2="468.30" stroke="#111111" stroke-width="1.4"/>
<circle cx="45.60" cy="468.30" r="1.60" fill="#000000"/>
<text transform="translate(54.60,468.30) scale(0.8696,1)" font-family="'Liberation Serif', serif" font-weight="bold" font-size="8.280" text-anchor="start" dominant-baseline="central" fill="#111">Ni0.9-DMF+Oleylamine</text>
<line x1="38.80" y1="476.70" x2="52.40" y2="476.70" stroke="#ff2a2a" stroke-width="1.4"/>
<circle cx="45.60" cy="476.70" r="1.60" fill="#ee0000"/>
<text transform="translate(54.60,476.70) scale(0.8696,1)" font-family="'Liberation Serif', serif" font-weight="bold" font-size="8.280" text-anchor="start" dominant-baseline="central" fill="#111">Ni0.9-DMF</text>
<text transform="translate(2.75,469.85) scale(1.058,1)" font-family="'Liberation Serif', serif" font-weight="bold" font-size="22.19" fill="#000">g</text>
<rect x="222.70" y="455.10" width="162.80" height="120.60" fill="none" stroke="#262a30" stroke-width="1.1"/>
<line x1="238.90" y1="575.70" x2="238.90" y2="572.70" stroke="#262a30" stroke-width="1"/>
<line x1="255.21" y1="575.70" x2="255.21" y2="573.70" stroke="#262a30" stroke-width="1"/>
<line x1="271.52" y1="575.70" x2="271.52" y2="572.70" stroke="#262a30" stroke-width="1"/>
<line x1="287.84" y1="575.70" x2="287.84" y2="573.70" stroke="#262a30" stroke-width="1"/>
<line x1="304.15" y1="575.70" x2="304.15" y2="572.70" stroke="#262a30" stroke-width="1"/>
<line x1="320.46" y1="575.70" x2="320.46" y2="573.70" stroke="#262a30" stroke-width="1"/>
<line x1="336.77" y1="575.70" x2="336.77" y2="572.70" stroke="#262a30" stroke-width="1"/>
<line x1="353.09" y1="575.70" x2="353.09" y2="573.70" stroke="#262a30" stroke-width="1"/>
<line x1="369.40" y1="575.70" x2="369.40" y2="572.70" stroke="#262a30" stroke-width="1"/>
<line x1="222.70" y1="565.20" x2="225.70" y2="565.20" stroke="#262a30" stroke-width="1"/>
<line x1="222.70" y1="545.26" x2="225.70" y2="545.26" stroke="#262a30" stroke-width="1"/>
<line x1="222.70" y1="525.32" x2="225.70" y2="525.32" stroke="#262a30" stroke-width="1"/>
<line x1="222.70" y1="505.38" x2="225.70" y2="505.38" stroke="#262a30" stroke-width="1"/>
<line x1="222.70" y1="485.44" x2="225.70" y2="485.44" stroke="#262a30" stroke-width="1"/>
<line x1="222.70" y1="465.50" x2="225.70" y2="465.50" stroke="#262a30" stroke-width="1"/>
<line x1="222.70" y1="555.23" x2="224.70" y2="555.23" stroke="#262a30" stroke-width="1"/>
<line x1="222.70" y1="535.29" x2="224.70" y2="535.29" stroke="#262a30" stroke-width="1"/>
<line x1="222.70" y1="515.35" x2="224.70" y2="515.35" stroke="#262a30" stroke-width="1"/>
<line x1="222.70" y1="495.41" x2="224.70" y2="495.41" stroke="#262a30" stroke-width="1"/>
<line x1="222.70" y1="475.47" x2="224.70" y2="475.47" stroke="#262a30" stroke-width="1"/>
<text transform="translate(238.90,581.00) scale(0.8696,1)" font-family="'Liberation Sans', sans-serif" font-weight="bold" font-size="6.900" text-anchor="middle" dominant-baseline="central" fill="#222">200</text>
<text transform="translate(271.52,581.00) scale(0.8696,1)" font-family="'Liberation Sans', sans-serif" font-weight="bold" font-size="6.900" text-anchor="middle" dominant-baseline="central" fill="#222">250</text>
<text transform="translate(304.15,581.00) scale(0.8696,1)" font-family="'Liberation Sans', sans-serif" font-weight="bold" font-size="6.900" text-anchor="middle" dominant-baseline="central" fill="#222">300</text>
<text transform="translate(336.77,581.00) scale(0.8696,1)" font-family="'Liberation Sans', sans-serif" font-weight="bold" font-size="6.900" text-anchor="middle" dominant-baseline="central" fill="#222">350</text>
<text transform="translate(369.40,581.00) scale(0.8696,1)" font-family="'Liberation Sans', sans-serif" font-weight="bold" font-size="6.900" text-anchor="middle" dominant-baseline="central" fill="#222">400</text>
<text transform="translate(219.50,565.20) scale(0.8696,1)" font-family="'Liberation Sans', sans-serif" font-weight="bold" font-size="6.900" text-anchor="end" dominant-baseline="central" fill="#222">0</text>
<text transform="translate(219.50,545.26) scale(0.8696,1)" font-family="'Liberation Sans', sans-serif" font-weight="bold" font-size="6.900" text-anchor="end" dominant-baseline="central" fill="#222">20</text>
<text transform="translate(219.50,525.32) scale(0.8696,1)" font-family="'Liberation Sans', sans-serif" font-weight="bold" font-size="6.900" text-anchor="end" dominant-baseline="central" fill="#222">40</text>
<text transform="translate(219.50,505.38) scale(0.8696,1)" font-family="'Liberation Sans', sans-serif" font-weight="bold" font-size="6.900" text-anchor="end" dominant-baseline="central" fill="#222">60</text>
<text transform="translate(219.50,485.44) scale(0.8696,1)" font-family="'Liberation Sans', sans-serif" font-weight="bold" font-size="6.900" text-anchor="end" dominant-baseline="central" fill="#222">80</text>
<text transform="translate(219.50,465.50) scale(0.8696,1)" font-family="'Liberation Sans', sans-serif" font-weight="bold" font-size="6.900" text-anchor="end" dominant-baseline="central" fill="#222">100</text>
<text transform="translate(304.60,592.40) scale(0.8696,1)" font-family="'Liberation Serif', serif" font-weight="bold" font-size="8.050" text-anchor="middle" dominant-baseline="central" fill="#111">Temperature (°C)</text>
<text transform="translate(205.30,519.20) rotate(-90) scale(1,1.1000)" font-family="'Liberation Serif', serif" font-weight="bold" font-size="7.000" text-anchor="middle" dominant-baseline="central" fill="#111" style="stroke-width:0.45px">CO<tspan font-size="65%" dy="2.3">2</tspan><tspan dy="-2.3"> Conversion(%)</tspan></text>
<polyline points="238.90,563.70 255.21,560.41 271.52,553.44 287.84,539.48 304.15,515.65 320.46,493.02 336.77,480.26 353.09,474.07 369.40,474.07" fill="none" stroke="#111111" stroke-width="1.25" stroke-linejoin="round"/>
<rect x="237.40" y="562.20" width="3.00" height="3.00" fill="#000000"/>
<rect x="253.71" y="558.91" width="3.00" height="3.00" fill="#000000"/>
<rect x="270.02" y="551.94" width="3.00" height="3.00" fill="#000000"/>
<rect x="286.34" y="537.98" width="3.00" height="3.00" fill="#000000"/>
<rect x="302.65" y="514.15" width="3.00" height="3.00" fill="#000000"/>
<rect x="318.96" y="491.52" width="3.00" height="3.00" fill="#000000"/>
<rect x="335.27" y="478.76" width="3.00" height="3.00" fill="#000000"/>
<rect x="351.59" y="472.57" width="3.00" height="3.00" fill="#000000"/>
<rect x="367.90" y="472.57" width="3.00" height="3.00" fill="#000000"/>
<polyline points="238.90,562.11 255.21,558.42 271.52,550.15 287.84,534.89 304.15,513.56 320.46,494.21 336.77,481.55 353.09,476.17 369.40,476.57" fill="none" stroke="#ff2a2a" stroke-width="1.25" stroke-linejoin="round"/>
<circle cx="238.90" cy="562.11" r="1.70" fill="#ee0000"/>
<circle cx="255.21" cy="558.42" r="1.70" fill="#ee0000"/>
<circle cx="271.52" cy="550.15" r="1.70" fill="#ee0000"/>
<circle cx="287.84" cy="534.89" r="1.70" fill="#ee0000"/>
<circle cx="304.15" cy="513.56" r="1.70" fill="#ee0000"/>
<circle cx="320.46" cy="494.21" r="1.70" fill="#ee0000"/>
<circle cx="336.77" cy="481.55" r="1.70" fill="#ee0000"/>
<circle cx="353.09" cy="476.17" r="1.70" fill="#ee0000"/>
<circle cx="369.40" cy="476.57" r="1.70" fill="#ee0000"/>
<line x1="233.10" y1="467.30" x2="246.70" y2="467.30" stroke="#111111" stroke-width="1.4"/>
<circle cx="239.90" cy="467.30" r="1.60" fill="#000000"/>
<text transform="translate(248.40,467.30) scale(0.8696,1)" font-family="'Liberation Serif', serif" font-weight="bold" font-size="8.165" text-anchor="start" dominant-baseline="central" fill="#111">Ni0.8-DMF+Oleylamine</text>
<line x1="233.10" y1="475.50" x2="246.70" y2="475.50" stroke="#ff2a2a" stroke-width="1.4"/>
<circle cx="239.90" cy="475.50" r="1.60" fill="#ee0000"/>
<text transform="translate(248.40,475.50) scale(0.8696,1)" font-family="'Liberation Serif', serif" font-weight="bold" font-size="8.165" text-anchor="start" dominant-baseline="central" fill="#111">Ni0.8-DMF</text>
<text transform="translate(196.55,471.75) scale(1.007,1)" font-family="'Liberation Serif', serif" font-weight="bold" font-size="23.61" fill="#000">h</text>
</svg>
</body></html>
